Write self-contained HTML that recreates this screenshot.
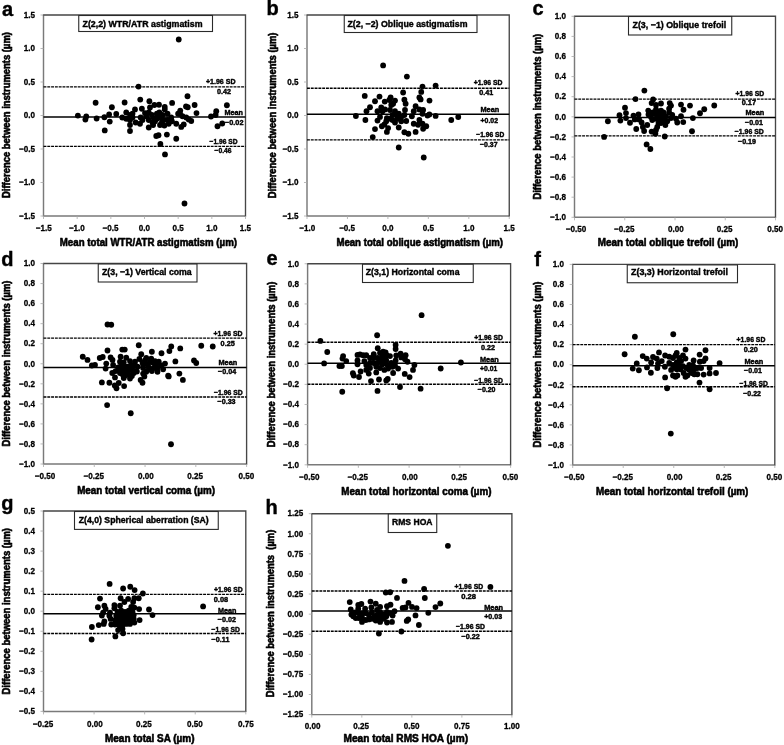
<!DOCTYPE html>
<html lang="en">
<head>
<meta charset="utf-8">
<title>Bland-Altman plots of differences between instruments</title>
<style>
html,body{margin:0;padding:0;background:#fff;}
body{width:784px;height:745px;overflow:hidden;}
svg{display:block;font-family:"Liberation Sans",sans-serif;font-weight:bold;fill:#000;}
.fr{fill:none;stroke:#464646;stroke-width:1.35;}
.fa{fill:none;stroke:#7a7a7a;stroke-width:1.45;}
.tm{fill:none;stroke:#a8a8a8;stroke-width:0.8;}
.tb{fill:#fff;stroke:#2a2a2a;stroke-width:1.1;}
.ds{fill:none;stroke:#000;stroke-width:1.4;stroke-dasharray:2.9 0.9;}
.mn{fill:none;stroke:#000;stroke-width:1.5;}
text{stroke:#000;stroke-linejoin:round;}
.tk{font-size:9.0px;stroke-width:0.3px;}
.an{font-size:7.9px;stroke-width:0.45px;}
.ti{font-size:9.1px;stroke-width:0.4px;}
.ax{font-size:10.8px;stroke-width:0.6px;}
.ay{font-size:10.2px;stroke-width:0.6px;}
.pl{font-size:20px;stroke-width:0.4px;}
</style>
</head>
<body>
<svg width="784" height="745" viewBox="0 0 784 745">
<rect x="0" y="0" width="784" height="745" fill="#fff"/>
<g class="panel">
<path class="fa" d="M43.5 15V216H245.5"/>
<path class="fr" d="M42.9 15H245.5V216.7"/>
<text class="tk" x="34.9" y="17.75" text-anchor="end" textLength="11.26" lengthAdjust="spacingAndGlyphs">1.5</text>
<text class="tk" x="34.9" y="51.25" text-anchor="end" textLength="11.26" lengthAdjust="spacingAndGlyphs">1.0</text>
<text class="tk" x="34.9" y="84.75" text-anchor="end" textLength="11.26" lengthAdjust="spacingAndGlyphs">0.5</text>
<text class="tk" x="34.9" y="118.25" text-anchor="end" textLength="11.26" lengthAdjust="spacingAndGlyphs">0.0</text>
<text class="tk" x="34.9" y="151.75" text-anchor="end" textLength="15.99" lengthAdjust="spacingAndGlyphs">−0.5</text>
<text class="tk" x="34.9" y="185.25" text-anchor="end" textLength="15.99" lengthAdjust="spacingAndGlyphs">−1.0</text>
<text class="tk" x="34.9" y="218.75" text-anchor="end" textLength="15.99" lengthAdjust="spacingAndGlyphs">−1.5</text>
<text class="tk" x="43.8" y="231.2" text-anchor="middle" textLength="15.99" lengthAdjust="spacingAndGlyphs">−1.5</text>
<text class="tk" x="76.87" y="231.2" text-anchor="middle" textLength="15.99" lengthAdjust="spacingAndGlyphs">−1.0</text>
<text class="tk" x="110.53" y="231.2" text-anchor="middle" textLength="15.99" lengthAdjust="spacingAndGlyphs">−0.5</text>
<text class="tk" x="144.5" y="231.2" text-anchor="middle" textLength="11.26" lengthAdjust="spacingAndGlyphs">0.0</text>
<text class="tk" x="178.17" y="231.2" text-anchor="middle" textLength="11.26" lengthAdjust="spacingAndGlyphs">0.5</text>
<text class="tk" x="211.83" y="231.2" text-anchor="middle" textLength="11.26" lengthAdjust="spacingAndGlyphs">1.0</text>
<text class="tk" x="245.5" y="231.2" text-anchor="middle" textLength="11.26" lengthAdjust="spacingAndGlyphs">1.5</text>
<path class="tm" d="M43.5 15h-3M43.5 48.5h-3M43.5 82h-3M43.5 115.5h-3M43.5 149h-3M43.5 182.5h-3M43.5 216h-3M43.5 216v3M77.17 216v3M110.83 216v3M144.5 216v3M178.17 216v3M211.83 216v3M245.5 216v3"/>
<path class="ds" d="M43.5 86.9H245.5 M43.5 146.4H245.5"/>
<path class="mn" d="M43.5 116.9H245.5"/>
<circle cx="77.88" cy="115.62" r="2.9"/>
<circle cx="86.25" cy="116.5" r="2.9"/>
<circle cx="85.38" cy="119.62" r="2.9"/>
<circle cx="95.62" cy="102.75" r="2.9"/>
<circle cx="96.62" cy="118.5" r="2.9"/>
<circle cx="104.38" cy="117.25" r="2.9"/>
<circle cx="104.75" cy="130.38" r="2.9"/>
<circle cx="109.12" cy="114.38" r="2.9"/>
<circle cx="109.75" cy="121.62" r="2.9"/>
<circle cx="111.88" cy="107.25" r="2.9"/>
<circle cx="116.25" cy="114" r="2.9"/>
<circle cx="122.25" cy="117.5" r="2.9"/>
<circle cx="124.62" cy="102.5" r="2.9"/>
<circle cx="126.25" cy="112.5" r="2.9"/>
<circle cx="126.25" cy="118.75" r="2.9"/>
<circle cx="130" cy="115" r="2.9"/>
<circle cx="130" cy="120" r="2.9"/>
<circle cx="130" cy="125" r="2.9"/>
<circle cx="130" cy="131" r="2.9"/>
<circle cx="132.5" cy="113.75" r="2.9"/>
<circle cx="138.5" cy="86.62" r="2.9"/>
<circle cx="140.25" cy="99.62" r="2.9"/>
<circle cx="135" cy="109.38" r="2.9"/>
<circle cx="141.88" cy="108.75" r="2.9"/>
<circle cx="149.38" cy="101.25" r="2.9"/>
<circle cx="150" cy="107.5" r="2.9"/>
<circle cx="154.38" cy="105" r="2.9"/>
<circle cx="159" cy="104.75" r="2.9"/>
<circle cx="164.75" cy="106.88" r="2.9"/>
<circle cx="164.75" cy="109.38" r="2.9"/>
<circle cx="172.12" cy="102.88" r="2.9"/>
<circle cx="180.25" cy="110.62" r="2.9"/>
<circle cx="187.5" cy="96.25" r="2.9"/>
<circle cx="186" cy="106.5" r="2.9"/>
<circle cx="187.75" cy="107.25" r="2.9"/>
<circle cx="194.62" cy="105" r="2.9"/>
<circle cx="196.5" cy="113.12" r="2.9"/>
<circle cx="216.25" cy="111.25" r="2.9"/>
<circle cx="215.62" cy="115" r="2.9"/>
<circle cx="211" cy="116.5" r="2.9"/>
<circle cx="226.88" cy="105.25" r="2.9"/>
<circle cx="217.5" cy="126.25" r="2.9"/>
<circle cx="222.25" cy="123.5" r="2.9"/>
<circle cx="156.25" cy="136" r="2.9"/>
<circle cx="158.5" cy="135.25" r="2.9"/>
<circle cx="166.88" cy="134.62" r="2.9"/>
<circle cx="176.25" cy="138.75" r="2.9"/>
<circle cx="160.38" cy="144" r="2.9"/>
<circle cx="165" cy="154.38" r="2.9"/>
<circle cx="140.62" cy="117.5" r="2.9"/>
<circle cx="140" cy="123.75" r="2.9"/>
<circle cx="142.5" cy="120" r="2.9"/>
<circle cx="146.25" cy="116.25" r="2.9"/>
<circle cx="148.75" cy="112.5" r="2.9"/>
<circle cx="148.75" cy="120" r="2.9"/>
<circle cx="148.75" cy="127.5" r="2.9"/>
<circle cx="151.88" cy="115" r="2.9"/>
<circle cx="152.5" cy="122.5" r="2.9"/>
<circle cx="153.12" cy="125" r="2.9"/>
<circle cx="156.88" cy="113.75" r="2.9"/>
<circle cx="156.88" cy="118.75" r="2.9"/>
<circle cx="159.38" cy="112.5" r="2.9"/>
<circle cx="160" cy="117.5" r="2.9"/>
<circle cx="160" cy="125" r="2.9"/>
<circle cx="163.75" cy="120" r="2.9"/>
<circle cx="164.38" cy="125.62" r="2.9"/>
<circle cx="167.5" cy="113.75" r="2.9"/>
<circle cx="167.5" cy="120" r="2.9"/>
<circle cx="171.25" cy="117.5" r="2.9"/>
<circle cx="171.88" cy="121.25" r="2.9"/>
<circle cx="176.25" cy="123.75" r="2.9"/>
<circle cx="178.12" cy="113.75" r="2.9"/>
<circle cx="180" cy="113.75" r="2.9"/>
<circle cx="181.25" cy="126.88" r="2.9"/>
<circle cx="183.75" cy="124.38" r="2.9"/>
<circle cx="182.5" cy="116.25" r="2.9"/>
<circle cx="186.25" cy="117.5" r="2.9"/>
<circle cx="188.75" cy="119.38" r="2.9"/>
<circle cx="191.25" cy="121" r="2.9"/>
<circle cx="132.5" cy="117.5" r="2.9"/>
<circle cx="135.62" cy="122.5" r="2.9"/>
<circle cx="145" cy="113.12" r="2.9"/>
<circle cx="155" cy="121.25" r="2.9"/>
<circle cx="162.5" cy="115" r="2.9"/>
<circle cx="161.88" cy="122.5" r="2.9"/>
<circle cx="168.75" cy="123.75" r="2.9"/>
<circle cx="153.75" cy="118.12" r="2.9"/>
<circle cx="178.75" cy="39.5" r="2.9"/>
<circle cx="184.5" cy="203.5" r="2.9"/>
<text class="an" x="206" y="84.45" textLength="29.5" lengthAdjust="spacingAndGlyphs">+1.96 SD</text>
<text class="an" x="217" y="94.2" textLength="14" lengthAdjust="spacingAndGlyphs">0.42</text>
<text class="an" x="224.5" y="115.45" textLength="18.5" lengthAdjust="spacingAndGlyphs">Mean</text>
<text class="an" x="225" y="124.95" textLength="18.5" lengthAdjust="spacingAndGlyphs">−0.02</text>
<text class="an" x="209.5" y="143.95" textLength="28" lengthAdjust="spacingAndGlyphs">−1.96 SD</text>
<text class="an" x="214.5" y="153.45" textLength="17" lengthAdjust="spacingAndGlyphs">−0.46</text>
<rect class="tb" x="78.75" y="15.5" width="133.75" height="16"/>
<text class="ti" x="82.5" y="26.5" textLength="120" lengthAdjust="spacingAndGlyphs">Z(2,2) WTR/ATR astigmatism</text>
<text class="ax" x="59.8" y="246.1" textLength="177.2" lengthAdjust="spacingAndGlyphs">Mean total WTR/ATR astigmatism (µm)</text>
<text class="ay" transform="translate(9.5 198) rotate(-90)" x="0" y="0" textLength="166" lengthAdjust="spacingAndGlyphs" style="white-space:pre">Difference between instruments (µm)</text>
<text class="pl" x="1.9" y="15.6">a</text>
</g>
<g class="panel">
<path class="fa" d="M307 15V216H509.25"/>
<path class="fr" d="M306.4 15H509.25V216.7"/>
<text class="tk" x="298.4" y="17.75" text-anchor="end" textLength="11.26" lengthAdjust="spacingAndGlyphs">1.5</text>
<text class="tk" x="298.4" y="51.25" text-anchor="end" textLength="11.26" lengthAdjust="spacingAndGlyphs">1.0</text>
<text class="tk" x="298.4" y="84.75" text-anchor="end" textLength="11.26" lengthAdjust="spacingAndGlyphs">0.5</text>
<text class="tk" x="298.4" y="118.25" text-anchor="end" textLength="11.26" lengthAdjust="spacingAndGlyphs">0.0</text>
<text class="tk" x="298.4" y="151.75" text-anchor="end" textLength="15.99" lengthAdjust="spacingAndGlyphs">−0.5</text>
<text class="tk" x="298.4" y="185.25" text-anchor="end" textLength="15.99" lengthAdjust="spacingAndGlyphs">−1.0</text>
<text class="tk" x="298.4" y="218.75" text-anchor="end" textLength="15.99" lengthAdjust="spacingAndGlyphs">−1.5</text>
<text class="tk" x="307.3" y="231.2" text-anchor="middle" textLength="15.99" lengthAdjust="spacingAndGlyphs">−1.0</text>
<text class="tk" x="347.15" y="231.2" text-anchor="middle" textLength="15.99" lengthAdjust="spacingAndGlyphs">−0.5</text>
<text class="tk" x="387.9" y="231.2" text-anchor="middle" textLength="11.26" lengthAdjust="spacingAndGlyphs">0.0</text>
<text class="tk" x="428.35" y="231.2" text-anchor="middle" textLength="11.26" lengthAdjust="spacingAndGlyphs">0.5</text>
<text class="tk" x="468.8" y="231.2" text-anchor="middle" textLength="11.26" lengthAdjust="spacingAndGlyphs">1.0</text>
<text class="tk" x="509.25" y="231.2" text-anchor="middle" textLength="11.26" lengthAdjust="spacingAndGlyphs">1.5</text>
<path class="tm" d="M307 15h-3M307 48.5h-3M307 82h-3M307 115.5h-3M307 149h-3M307 182.5h-3M307 216h-3M307 216v3M347.45 216v3M387.9 216v3M428.35 216v3M468.8 216v3M509.25 216v3"/>
<path class="ds" d="M307 88.2H509.25 M307 139.9H509.25"/>
<path class="mn" d="M307 114.2H509.25"/>
<circle cx="383.12" cy="65.38" r="2.9"/>
<circle cx="406.88" cy="76.62" r="2.9"/>
<circle cx="422.5" cy="86.62" r="2.9"/>
<circle cx="435.62" cy="85.62" r="2.9"/>
<circle cx="421.25" cy="91.88" r="2.9"/>
<circle cx="403.12" cy="92.5" r="2.9"/>
<circle cx="364.75" cy="95.88" r="2.9"/>
<circle cx="379.5" cy="96.62" r="2.9"/>
<circle cx="375" cy="101.25" r="2.9"/>
<circle cx="384.75" cy="101.62" r="2.9"/>
<circle cx="390.62" cy="97.5" r="2.9"/>
<circle cx="389.38" cy="100" r="2.9"/>
<circle cx="395" cy="100.62" r="2.9"/>
<circle cx="404.38" cy="99.75" r="2.9"/>
<circle cx="405.62" cy="103.75" r="2.9"/>
<circle cx="419.38" cy="97.5" r="2.9"/>
<circle cx="420.62" cy="99.38" r="2.9"/>
<circle cx="429.5" cy="100.62" r="2.9"/>
<circle cx="370" cy="107.25" r="2.9"/>
<circle cx="366.5" cy="111.25" r="2.9"/>
<circle cx="355.88" cy="116" r="2.9"/>
<circle cx="365.38" cy="120" r="2.9"/>
<circle cx="381.25" cy="107.5" r="2.9"/>
<circle cx="377.5" cy="111.25" r="2.9"/>
<circle cx="382.5" cy="111.25" r="2.9"/>
<circle cx="380" cy="116.88" r="2.9"/>
<circle cx="377.5" cy="120.62" r="2.9"/>
<circle cx="391.25" cy="105" r="2.9"/>
<circle cx="393.12" cy="103.75" r="2.9"/>
<circle cx="390" cy="110" r="2.9"/>
<circle cx="395" cy="111.25" r="2.9"/>
<circle cx="392.5" cy="115" r="2.9"/>
<circle cx="386.88" cy="118.12" r="2.9"/>
<circle cx="386.25" cy="121.25" r="2.9"/>
<circle cx="398.75" cy="113.75" r="2.9"/>
<circle cx="397.5" cy="118.75" r="2.9"/>
<circle cx="395" cy="122.5" r="2.9"/>
<circle cx="401.25" cy="121.25" r="2.9"/>
<circle cx="405" cy="110" r="2.9"/>
<circle cx="404.38" cy="115" r="2.9"/>
<circle cx="406.25" cy="121" r="2.9"/>
<circle cx="411.88" cy="116.25" r="2.9"/>
<circle cx="413.75" cy="111.25" r="2.9"/>
<circle cx="415.62" cy="106.25" r="2.9"/>
<circle cx="419.38" cy="109.38" r="2.9"/>
<circle cx="423.12" cy="110" r="2.9"/>
<circle cx="422.5" cy="113.75" r="2.9"/>
<circle cx="427.5" cy="115.62" r="2.9"/>
<circle cx="429.38" cy="114.38" r="2.9"/>
<circle cx="435.62" cy="115.88" r="2.9"/>
<circle cx="419.38" cy="120" r="2.9"/>
<circle cx="413.75" cy="123.75" r="2.9"/>
<circle cx="418.12" cy="124.75" r="2.9"/>
<circle cx="422.5" cy="123.75" r="2.9"/>
<circle cx="426.25" cy="126.25" r="2.9"/>
<circle cx="423.12" cy="128.75" r="2.9"/>
<circle cx="415.62" cy="131.88" r="2.9"/>
<circle cx="404.38" cy="132.25" r="2.9"/>
<circle cx="408.38" cy="133.75" r="2.9"/>
<circle cx="398.75" cy="127.5" r="2.9"/>
<circle cx="386.88" cy="131.88" r="2.9"/>
<circle cx="388.12" cy="128.12" r="2.9"/>
<circle cx="384.38" cy="124.38" r="2.9"/>
<circle cx="381.88" cy="126.25" r="2.9"/>
<circle cx="375" cy="129.12" r="2.9"/>
<circle cx="372.75" cy="137.12" r="2.9"/>
<circle cx="398.75" cy="147.5" r="2.9"/>
<circle cx="385" cy="109.38" r="2.9"/>
<circle cx="396.88" cy="115.62" r="2.9"/>
<circle cx="401.25" cy="116.88" r="2.9"/>
<circle cx="390.62" cy="118.75" r="2.9"/>
<circle cx="392.5" cy="120" r="2.9"/>
<circle cx="423.75" cy="157.5" r="2.9"/>
<circle cx="451.25" cy="120" r="2.9"/>
<circle cx="458.25" cy="117" r="2.9"/>
<text class="an" x="473.75" y="84.95" textLength="28.75" lengthAdjust="spacingAndGlyphs">+1.96 SD</text>
<text class="an" x="479.25" y="94.95" textLength="14" lengthAdjust="spacingAndGlyphs">0.41</text>
<text class="an" x="480.5" y="112.45" textLength="18.75" lengthAdjust="spacingAndGlyphs">Mean</text>
<text class="an" x="480.5" y="122.95" textLength="17.5" lengthAdjust="spacingAndGlyphs">+0.02</text>
<text class="an" x="476.25" y="137.45" textLength="28" lengthAdjust="spacingAndGlyphs">−1.96 SD</text>
<text class="an" x="480" y="146.95" textLength="17.5" lengthAdjust="spacingAndGlyphs">−0.37</text>
<rect class="tb" x="344.25" y="15.5" width="132.75" height="17"/>
<text class="ti" x="347.5" y="26.5" textLength="120" lengthAdjust="spacingAndGlyphs">Z(2, −2) Oblique astigmatism</text>
<text class="ax" x="336.4" y="246.1" textLength="166.6" lengthAdjust="spacingAndGlyphs">Mean total oblique astigmatism (µm)</text>
<text class="ay" transform="translate(275.9 198.3) rotate(-90)" x="0" y="0" textLength="165.8" lengthAdjust="spacingAndGlyphs" style="white-space:pre">Difference between instruments (µm)</text>
<text class="pl" x="266.5" y="14.6">b</text>
</g>
<g class="panel">
<path class="fa" d="M574.5 16.3V217.3H775.5"/>
<path class="fr" d="M573.9 16.3H775.5V218"/>
<text class="tk" x="565.9" y="19.05" text-anchor="end" textLength="11.26" lengthAdjust="spacingAndGlyphs">1.0</text>
<text class="tk" x="565.9" y="39.15" text-anchor="end" textLength="11.26" lengthAdjust="spacingAndGlyphs">0.8</text>
<text class="tk" x="565.9" y="59.25" text-anchor="end" textLength="11.26" lengthAdjust="spacingAndGlyphs">0.6</text>
<text class="tk" x="565.9" y="79.35" text-anchor="end" textLength="11.26" lengthAdjust="spacingAndGlyphs">0.4</text>
<text class="tk" x="565.9" y="99.45" text-anchor="end" textLength="11.26" lengthAdjust="spacingAndGlyphs">0.2</text>
<text class="tk" x="565.9" y="119.55" text-anchor="end" textLength="11.26" lengthAdjust="spacingAndGlyphs">0.0</text>
<text class="tk" x="565.9" y="139.65" text-anchor="end" textLength="15.99" lengthAdjust="spacingAndGlyphs">−0.2</text>
<text class="tk" x="565.9" y="159.75" text-anchor="end" textLength="15.99" lengthAdjust="spacingAndGlyphs">−0.4</text>
<text class="tk" x="565.9" y="179.85" text-anchor="end" textLength="15.99" lengthAdjust="spacingAndGlyphs">−0.6</text>
<text class="tk" x="565.9" y="199.95" text-anchor="end" textLength="15.99" lengthAdjust="spacingAndGlyphs">−0.8</text>
<text class="tk" x="565.9" y="220.05" text-anchor="end" textLength="15.99" lengthAdjust="spacingAndGlyphs">−1.0</text>
<text class="tk" x="576.1" y="231.7" text-anchor="middle" textLength="20.49" lengthAdjust="spacingAndGlyphs">−0.50</text>
<text class="tk" x="624.25" y="231.7" text-anchor="middle" textLength="20.49" lengthAdjust="spacingAndGlyphs">−0.25</text>
<text class="tk" x="675.9" y="231.7" text-anchor="middle" textLength="15.76" lengthAdjust="spacingAndGlyphs">0.00</text>
<text class="tk" x="724.55" y="231.7" text-anchor="middle" textLength="15.76" lengthAdjust="spacingAndGlyphs">0.25</text>
<text class="tk" x="775.2" y="231.7" text-anchor="middle" textLength="15.76" lengthAdjust="spacingAndGlyphs">0.50</text>
<path class="tm" d="M574.5 16.3h-3M574.5 36.4h-3M574.5 56.5h-3M574.5 76.6h-3M574.5 96.7h-3M574.5 116.8h-3M574.5 136.9h-3M574.5 157h-3M574.5 177.1h-3M574.5 197.2h-3M574.5 217.3h-3M574.5 217.3v3M624.75 217.3v3M675 217.3v3M725.25 217.3v3M775.5 217.3v3"/>
<path class="ds" d="M574.5 99.1H775.5 M574.5 135.9H775.5"/>
<path class="mn" d="M574.5 117.4H775.5"/>
<circle cx="644.38" cy="90.62" r="2.9"/>
<circle cx="635.5" cy="99.12" r="2.9"/>
<circle cx="653.12" cy="99.38" r="2.9"/>
<circle cx="651.62" cy="103.12" r="2.9"/>
<circle cx="625" cy="107.75" r="2.9"/>
<circle cx="626" cy="113.12" r="2.9"/>
<circle cx="619.5" cy="115.25" r="2.9"/>
<circle cx="620.38" cy="120.62" r="2.9"/>
<circle cx="607.88" cy="121.25" r="2.9"/>
<circle cx="604.12" cy="136.88" r="2.9"/>
<circle cx="626" cy="118.12" r="2.9"/>
<circle cx="633.5" cy="115.62" r="2.9"/>
<circle cx="638.5" cy="114.38" r="2.9"/>
<circle cx="634.75" cy="119.38" r="2.9"/>
<circle cx="630" cy="122.75" r="2.9"/>
<circle cx="639.12" cy="119.38" r="2.9"/>
<circle cx="641.62" cy="122.5" r="2.9"/>
<circle cx="647.25" cy="125" r="2.9"/>
<circle cx="642.88" cy="126.88" r="2.9"/>
<circle cx="636.25" cy="129" r="2.9"/>
<circle cx="644.12" cy="131" r="2.9"/>
<circle cx="648.25" cy="110.62" r="2.9"/>
<circle cx="648.5" cy="114.38" r="2.9"/>
<circle cx="651" cy="116.88" r="2.9"/>
<circle cx="656" cy="105" r="2.9"/>
<circle cx="661" cy="103.5" r="2.9"/>
<circle cx="669.75" cy="103.12" r="2.9"/>
<circle cx="671" cy="105.62" r="2.9"/>
<circle cx="669.12" cy="108.75" r="2.9"/>
<circle cx="656" cy="109.38" r="2.9"/>
<circle cx="661" cy="110.62" r="2.9"/>
<circle cx="654.75" cy="113.75" r="2.9"/>
<circle cx="658.5" cy="115" r="2.9"/>
<circle cx="662.25" cy="115" r="2.9"/>
<circle cx="656" cy="118.75" r="2.9"/>
<circle cx="659.75" cy="119.38" r="2.9"/>
<circle cx="664.12" cy="118.12" r="2.9"/>
<circle cx="669.12" cy="112.5" r="2.9"/>
<circle cx="672.25" cy="115" r="2.9"/>
<circle cx="671" cy="118.12" r="2.9"/>
<circle cx="667.25" cy="121.25" r="2.9"/>
<circle cx="661" cy="123.12" r="2.9"/>
<circle cx="665.38" cy="125" r="2.9"/>
<circle cx="657.25" cy="126.88" r="2.9"/>
<circle cx="656" cy="130" r="2.9"/>
<circle cx="651.62" cy="131.62" r="2.9"/>
<circle cx="655.38" cy="133.75" r="2.9"/>
<circle cx="664.75" cy="136.5" r="2.9"/>
<circle cx="646.62" cy="144.38" r="2.9"/>
<circle cx="650.38" cy="149" r="2.9"/>
<circle cx="681" cy="104.62" r="2.9"/>
<circle cx="690" cy="105.62" r="2.9"/>
<circle cx="683.5" cy="109.75" r="2.9"/>
<circle cx="681" cy="116.25" r="2.9"/>
<circle cx="676" cy="118.75" r="2.9"/>
<circle cx="677.25" cy="122.5" r="2.9"/>
<circle cx="683.25" cy="122.12" r="2.9"/>
<circle cx="692.88" cy="118.12" r="2.9"/>
<circle cx="692" cy="131.25" r="2.9"/>
<circle cx="652.88" cy="112.5" r="2.9"/>
<circle cx="658.5" cy="111.88" r="2.9"/>
<circle cx="663.5" cy="112.5" r="2.9"/>
<circle cx="666" cy="116.25" r="2.9"/>
<circle cx="652.25" cy="120" r="2.9"/>
<circle cx="663.5" cy="121.25" r="2.9"/>
<circle cx="658.5" cy="123.12" r="2.9"/>
<circle cx="714.25" cy="105.5" r="2.9"/>
<circle cx="704.25" cy="109.25" r="2.9"/>
<circle cx="700" cy="113.25" r="2.9"/>
<text class="an" x="735.5" y="96.2" textLength="28.75" lengthAdjust="spacingAndGlyphs">+1.96 SD</text>
<text class="an" x="741.75" y="105.45" textLength="14.25" lengthAdjust="spacingAndGlyphs">0.17</text>
<text class="an" x="745.5" y="115.45" textLength="18.75" lengthAdjust="spacingAndGlyphs">Mean</text>
<text class="an" x="745" y="124.95" textLength="18" lengthAdjust="spacingAndGlyphs">−0.01</text>
<text class="an" x="734.75" y="134.2" textLength="29" lengthAdjust="spacingAndGlyphs">−1.96 SD</text>
<text class="an" x="738" y="143.7" textLength="18" lengthAdjust="spacingAndGlyphs">−0.19</text>
<rect class="tb" x="628.5" y="16.5" width="103.25" height="18.5"/>
<text class="ti" x="632.5" y="27.7" textLength="93.75" lengthAdjust="spacingAndGlyphs">Z(3, −1) Oblique trefoil</text>
<text class="ax" x="597.75" y="245.8" textLength="140.5" lengthAdjust="spacingAndGlyphs">Mean total oblique trefoil (µm)</text>
<text class="ay" transform="translate(540.9 199.6) rotate(-90)" x="0" y="0" textLength="165.8" lengthAdjust="spacingAndGlyphs" style="white-space:pre">Difference between instruments (µm)</text>
<text class="pl" x="532.5" y="14.6">c</text>
</g>
<g class="panel">
<path class="fa" d="M43.5 263.5V464H246.6"/>
<path class="fr" d="M42.9 263.5H246.6V464.7"/>
<text class="tk" x="34.9" y="266.25" text-anchor="end" textLength="11.26" lengthAdjust="spacingAndGlyphs">1.0</text>
<text class="tk" x="34.9" y="286.3" text-anchor="end" textLength="11.26" lengthAdjust="spacingAndGlyphs">0.8</text>
<text class="tk" x="34.9" y="306.35" text-anchor="end" textLength="11.26" lengthAdjust="spacingAndGlyphs">0.6</text>
<text class="tk" x="34.9" y="326.4" text-anchor="end" textLength="11.26" lengthAdjust="spacingAndGlyphs">0.4</text>
<text class="tk" x="34.9" y="346.45" text-anchor="end" textLength="11.26" lengthAdjust="spacingAndGlyphs">0.2</text>
<text class="tk" x="34.9" y="366.5" text-anchor="end" textLength="11.26" lengthAdjust="spacingAndGlyphs">0.0</text>
<text class="tk" x="34.9" y="386.55" text-anchor="end" textLength="15.99" lengthAdjust="spacingAndGlyphs">−0.2</text>
<text class="tk" x="34.9" y="406.6" text-anchor="end" textLength="15.99" lengthAdjust="spacingAndGlyphs">−0.4</text>
<text class="tk" x="34.9" y="426.65" text-anchor="end" textLength="15.99" lengthAdjust="spacingAndGlyphs">−0.6</text>
<text class="tk" x="34.9" y="446.7" text-anchor="end" textLength="15.99" lengthAdjust="spacingAndGlyphs">−0.8</text>
<text class="tk" x="34.9" y="466.75" text-anchor="end" textLength="15.99" lengthAdjust="spacingAndGlyphs">−1.0</text>
<text class="tk" x="45.1" y="479.2" text-anchor="middle" textLength="20.49" lengthAdjust="spacingAndGlyphs">−0.50</text>
<text class="tk" x="93.78" y="479.2" text-anchor="middle" textLength="20.49" lengthAdjust="spacingAndGlyphs">−0.25</text>
<text class="tk" x="145.95" y="479.2" text-anchor="middle" textLength="15.76" lengthAdjust="spacingAndGlyphs">0.00</text>
<text class="tk" x="195.12" y="479.2" text-anchor="middle" textLength="15.76" lengthAdjust="spacingAndGlyphs">0.25</text>
<text class="tk" x="246.3" y="479.2" text-anchor="middle" textLength="15.76" lengthAdjust="spacingAndGlyphs">0.50</text>
<path class="tm" d="M43.5 263.5h-3M43.5 283.55h-3M43.5 303.6h-3M43.5 323.65h-3M43.5 343.7h-3M43.5 363.75h-3M43.5 383.8h-3M43.5 403.85h-3M43.5 423.9h-3M43.5 443.95h-3M43.5 464h-3M43.5 464v3M94.28 464v3M145.05 464v3M195.82 464v3M246.6 464v3"/>
<path class="ds" d="M43.5 338.1H246.6 M43.5 397H246.6"/>
<path class="mn" d="M43.5 367.4H246.6"/>
<circle cx="107.5" cy="324.5" r="2.9"/>
<circle cx="111.25" cy="324.75" r="2.9"/>
<circle cx="138.75" cy="345.25" r="2.9"/>
<circle cx="107.5" cy="350.5" r="2.9"/>
<circle cx="122.25" cy="349.62" r="2.9"/>
<circle cx="124.75" cy="349.62" r="2.9"/>
<circle cx="82.75" cy="356.75" r="2.9"/>
<circle cx="87.5" cy="359.88" r="2.9"/>
<circle cx="91.88" cy="365.5" r="2.9"/>
<circle cx="95" cy="364.88" r="2.9"/>
<circle cx="99.75" cy="358" r="2.9"/>
<circle cx="102.75" cy="357" r="2.9"/>
<circle cx="110.62" cy="357.38" r="2.9"/>
<circle cx="112.5" cy="359.88" r="2.9"/>
<circle cx="106.25" cy="363.62" r="2.9"/>
<circle cx="105.62" cy="368.62" r="2.9"/>
<circle cx="113.12" cy="364.88" r="2.9"/>
<circle cx="120.62" cy="356.75" r="2.9"/>
<circle cx="126.25" cy="357.75" r="2.9"/>
<circle cx="120" cy="361.75" r="2.9"/>
<circle cx="123.75" cy="362.38" r="2.9"/>
<circle cx="130" cy="361.12" r="2.9"/>
<circle cx="118.12" cy="367.38" r="2.9"/>
<circle cx="115.62" cy="371.12" r="2.9"/>
<circle cx="112.25" cy="373" r="2.9"/>
<circle cx="115" cy="377.38" r="2.9"/>
<circle cx="120" cy="373" r="2.9"/>
<circle cx="123.75" cy="378" r="2.9"/>
<circle cx="125" cy="371.75" r="2.9"/>
<circle cx="127.5" cy="366.75" r="2.9"/>
<circle cx="131.25" cy="364.88" r="2.9"/>
<circle cx="135" cy="365.5" r="2.9"/>
<circle cx="132.5" cy="369.88" r="2.9"/>
<circle cx="136.88" cy="371.5" r="2.9"/>
<circle cx="131.88" cy="376.12" r="2.9"/>
<circle cx="130" cy="378.62" r="2.9"/>
<circle cx="141.25" cy="354.25" r="2.9"/>
<circle cx="139.38" cy="359" r="2.9"/>
<circle cx="146.25" cy="358" r="2.9"/>
<circle cx="142.5" cy="362.38" r="2.9"/>
<circle cx="143.12" cy="368" r="2.9"/>
<circle cx="147.5" cy="364.25" r="2.9"/>
<circle cx="151.25" cy="358.62" r="2.9"/>
<circle cx="151.88" cy="351.75" r="2.9"/>
<circle cx="152.5" cy="362.38" r="2.9"/>
<circle cx="155" cy="361.12" r="2.9"/>
<circle cx="158.75" cy="361.75" r="2.9"/>
<circle cx="151.88" cy="371.12" r="2.9"/>
<circle cx="157.5" cy="371.75" r="2.9"/>
<circle cx="155" cy="366.75" r="2.9"/>
<circle cx="161.25" cy="365.5" r="2.9"/>
<circle cx="163.12" cy="369.25" r="2.9"/>
<circle cx="165" cy="363.62" r="2.9"/>
<circle cx="161.5" cy="353.25" r="2.9"/>
<circle cx="169.38" cy="351.12" r="2.9"/>
<circle cx="171.25" cy="346.5" r="2.9"/>
<circle cx="168.12" cy="375.75" r="2.9"/>
<circle cx="143.12" cy="373.62" r="2.9"/>
<circle cx="144.38" cy="376.5" r="2.9"/>
<circle cx="140.62" cy="379.88" r="2.9"/>
<circle cx="142.5" cy="382.75" r="2.9"/>
<circle cx="101.88" cy="382.38" r="2.9"/>
<circle cx="109.38" cy="382.75" r="2.9"/>
<circle cx="114.75" cy="385.5" r="2.9"/>
<circle cx="118.75" cy="383" r="2.9"/>
<circle cx="116.5" cy="388.25" r="2.9"/>
<circle cx="124.12" cy="386.12" r="2.9"/>
<circle cx="107.12" cy="405.12" r="2.9"/>
<circle cx="122.5" cy="369.25" r="2.9"/>
<circle cx="127.5" cy="373" r="2.9"/>
<circle cx="148.75" cy="367.38" r="2.9"/>
<circle cx="130" cy="368" r="2.9"/>
<circle cx="133.75" cy="373" r="2.9"/>
<circle cx="128.75" cy="370.5" r="2.9"/>
<circle cx="125" cy="375.5" r="2.9"/>
<circle cx="135" cy="361.75" r="2.9"/>
<circle cx="145" cy="360.5" r="2.9"/>
<circle cx="150" cy="361.75" r="2.9"/>
<circle cx="156.25" cy="364.25" r="2.9"/>
<circle cx="150" cy="369.25" r="2.9"/>
<circle cx="146.25" cy="371.75" r="2.9"/>
<circle cx="153.75" cy="368" r="2.9"/>
<circle cx="157.5" cy="368" r="2.9"/>
<circle cx="121.25" cy="365.5" r="2.9"/>
<circle cx="125" cy="366.75" r="2.9"/>
<circle cx="118.75" cy="370.5" r="2.9"/>
<circle cx="122.5" cy="374.25" r="2.9"/>
<circle cx="128.75" cy="374.88" r="2.9"/>
<circle cx="143.12" cy="364.88" r="2.9"/>
<circle cx="137.5" cy="366.75" r="2.9"/>
<circle cx="180.25" cy="348.38" r="2.9"/>
<circle cx="201.25" cy="345.75" r="2.9"/>
<circle cx="212.75" cy="346.5" r="2.9"/>
<circle cx="175.38" cy="361.38" r="2.9"/>
<circle cx="194" cy="360.5" r="2.9"/>
<circle cx="196.25" cy="363" r="2.9"/>
<circle cx="179.38" cy="373.62" r="2.9"/>
<circle cx="182.88" cy="379.88" r="2.9"/>
<circle cx="168.75" cy="376.38" r="2.9"/>
<circle cx="171" cy="444.25" r="2.9"/>
<circle cx="130.75" cy="413.25" r="2.9"/>
<text class="an" x="213.5" y="336.05" textLength="29" lengthAdjust="spacingAndGlyphs">+1.96 SD</text>
<text class="an" x="220.6" y="345.85" textLength="14.15" lengthAdjust="spacingAndGlyphs">0.25</text>
<text class="an" x="218.5" y="364.85" textLength="18.75" lengthAdjust="spacingAndGlyphs">Mean</text>
<text class="an" x="218.1" y="374.45" textLength="18.15" lengthAdjust="spacingAndGlyphs">−0.04</text>
<text class="an" x="214" y="394.85" textLength="28.75" lengthAdjust="spacingAndGlyphs">−1.96 SD</text>
<text class="an" x="217.5" y="404.45" textLength="18.1" lengthAdjust="spacingAndGlyphs">−0.33</text>
<rect class="tb" x="98.25" y="264" width="98.75" height="18"/>
<text class="ti" x="102" y="275" textLength="89.75" lengthAdjust="spacingAndGlyphs">Z(3, −1) Vertical coma</text>
<text class="ax" x="77.2" y="494.1" textLength="137.8" lengthAdjust="spacingAndGlyphs">Mean total vertical coma (µm)</text>
<text class="ay" transform="translate(9.5 446.5) rotate(-90)" x="0" y="0" textLength="166" lengthAdjust="spacingAndGlyphs" style="white-space:pre">Difference between instruments (µm)</text>
<text class="pl" x="1.2" y="266">d</text>
</g>
<g class="panel">
<path class="fa" d="M307.6 263.75V464.8H510.6"/>
<path class="fr" d="M307 263.75H510.6V465.5"/>
<text class="tk" x="299" y="266.5" text-anchor="end" textLength="11.26" lengthAdjust="spacingAndGlyphs">1.0</text>
<text class="tk" x="299" y="286.61" text-anchor="end" textLength="11.26" lengthAdjust="spacingAndGlyphs">0.8</text>
<text class="tk" x="299" y="306.71" text-anchor="end" textLength="11.26" lengthAdjust="spacingAndGlyphs">0.6</text>
<text class="tk" x="299" y="326.82" text-anchor="end" textLength="11.26" lengthAdjust="spacingAndGlyphs">0.4</text>
<text class="tk" x="299" y="346.92" text-anchor="end" textLength="11.26" lengthAdjust="spacingAndGlyphs">0.2</text>
<text class="tk" x="299" y="367.02" text-anchor="end" textLength="11.26" lengthAdjust="spacingAndGlyphs">0.0</text>
<text class="tk" x="299" y="387.13" text-anchor="end" textLength="15.99" lengthAdjust="spacingAndGlyphs">−0.2</text>
<text class="tk" x="299" y="407.24" text-anchor="end" textLength="15.99" lengthAdjust="spacingAndGlyphs">−0.4</text>
<text class="tk" x="299" y="427.34" text-anchor="end" textLength="15.99" lengthAdjust="spacingAndGlyphs">−0.6</text>
<text class="tk" x="299" y="447.44" text-anchor="end" textLength="15.99" lengthAdjust="spacingAndGlyphs">−0.8</text>
<text class="tk" x="299" y="467.55" text-anchor="end" textLength="15.99" lengthAdjust="spacingAndGlyphs">−1.0</text>
<text class="tk" x="309.2" y="480" text-anchor="middle" textLength="20.49" lengthAdjust="spacingAndGlyphs">−0.50</text>
<text class="tk" x="357.85" y="480" text-anchor="middle" textLength="20.49" lengthAdjust="spacingAndGlyphs">−0.25</text>
<text class="tk" x="410" y="480" text-anchor="middle" textLength="15.76" lengthAdjust="spacingAndGlyphs">0.00</text>
<text class="tk" x="459.15" y="480" text-anchor="middle" textLength="15.76" lengthAdjust="spacingAndGlyphs">0.25</text>
<text class="tk" x="510.3" y="480" text-anchor="middle" textLength="15.76" lengthAdjust="spacingAndGlyphs">0.50</text>
<path class="tm" d="M307.6 263.75h-3M307.6 283.86h-3M307.6 303.96h-3M307.6 324.07h-3M307.6 344.17h-3M307.6 364.27h-3M307.6 384.38h-3M307.6 404.49h-3M307.6 424.59h-3M307.6 444.69h-3M307.6 464.8h-3M307.6 464.8v3M358.35 464.8v3M409.1 464.8v3M459.85 464.8v3M510.6 464.8v3"/>
<path class="ds" d="M307.6 342.2H510.6 M307.6 384.2H510.6"/>
<path class="mn" d="M307.6 363.2H510.6"/>
<circle cx="320.38" cy="340.88" r="2.9"/>
<circle cx="327.25" cy="352" r="2.9"/>
<circle cx="324.12" cy="363.38" r="2.9"/>
<circle cx="377.12" cy="335.25" r="2.9"/>
<circle cx="343.12" cy="356.12" r="2.9"/>
<circle cx="342.5" cy="358.62" r="2.9"/>
<circle cx="346.25" cy="361.12" r="2.9"/>
<circle cx="339.38" cy="366.12" r="2.9"/>
<circle cx="341.88" cy="366.12" r="2.9"/>
<circle cx="342.25" cy="391.75" r="2.9"/>
<circle cx="357.5" cy="354.88" r="2.9"/>
<circle cx="360" cy="354.5" r="2.9"/>
<circle cx="357.5" cy="360.5" r="2.9"/>
<circle cx="357.5" cy="364.25" r="2.9"/>
<circle cx="363.12" cy="355.25" r="2.9"/>
<circle cx="366.25" cy="355.25" r="2.9"/>
<circle cx="364.38" cy="361.12" r="2.9"/>
<circle cx="366.25" cy="364.88" r="2.9"/>
<circle cx="370" cy="368" r="2.9"/>
<circle cx="366.25" cy="369.88" r="2.9"/>
<circle cx="368.75" cy="373.62" r="2.9"/>
<circle cx="360.62" cy="371.5" r="2.9"/>
<circle cx="352.88" cy="373.25" r="2.9"/>
<circle cx="353.75" cy="375.5" r="2.9"/>
<circle cx="359" cy="377" r="2.9"/>
<circle cx="371" cy="381.12" r="2.9"/>
<circle cx="379" cy="379.5" r="2.9"/>
<circle cx="386.25" cy="380.5" r="2.9"/>
<circle cx="387.75" cy="379" r="2.9"/>
<circle cx="377.5" cy="390.88" r="2.9"/>
<circle cx="400" cy="387" r="2.9"/>
<circle cx="377.75" cy="348.25" r="2.9"/>
<circle cx="395.62" cy="344.88" r="2.9"/>
<circle cx="395.62" cy="349" r="2.9"/>
<circle cx="373.75" cy="354.25" r="2.9"/>
<circle cx="373.12" cy="358" r="2.9"/>
<circle cx="373.75" cy="363" r="2.9"/>
<circle cx="376.25" cy="366.75" r="2.9"/>
<circle cx="376.25" cy="372.38" r="2.9"/>
<circle cx="380" cy="353" r="2.9"/>
<circle cx="383.12" cy="351.75" r="2.9"/>
<circle cx="385.62" cy="352.38" r="2.9"/>
<circle cx="382.5" cy="356.75" r="2.9"/>
<circle cx="380" cy="360.5" r="2.9"/>
<circle cx="382.5" cy="364.25" r="2.9"/>
<circle cx="380" cy="368" r="2.9"/>
<circle cx="384.38" cy="369.88" r="2.9"/>
<circle cx="386.88" cy="355.5" r="2.9"/>
<circle cx="390" cy="356.12" r="2.9"/>
<circle cx="386.25" cy="360.5" r="2.9"/>
<circle cx="387.5" cy="364.88" r="2.9"/>
<circle cx="388.12" cy="368.62" r="2.9"/>
<circle cx="391.25" cy="363" r="2.9"/>
<circle cx="392.5" cy="366.75" r="2.9"/>
<circle cx="393.12" cy="373" r="2.9"/>
<circle cx="396.25" cy="355.5" r="2.9"/>
<circle cx="400.62" cy="353.62" r="2.9"/>
<circle cx="405.62" cy="355.25" r="2.9"/>
<circle cx="401.25" cy="357.38" r="2.9"/>
<circle cx="395.62" cy="360.5" r="2.9"/>
<circle cx="395" cy="365.5" r="2.9"/>
<circle cx="398.12" cy="368.62" r="2.9"/>
<circle cx="405" cy="359.25" r="2.9"/>
<circle cx="407.5" cy="361.75" r="2.9"/>
<circle cx="404.75" cy="373.88" r="2.9"/>
<circle cx="409.62" cy="377.12" r="2.9"/>
<circle cx="413" cy="369.88" r="2.9"/>
<circle cx="370" cy="358" r="2.9"/>
<circle cx="370" cy="363" r="2.9"/>
<circle cx="377.5" cy="358" r="2.9"/>
<circle cx="377.5" cy="363" r="2.9"/>
<circle cx="383.75" cy="360.5" r="2.9"/>
<circle cx="421.6" cy="315.2" r="2.9"/>
<circle cx="460.9" cy="362.5" r="2.9"/>
<circle cx="440.7" cy="368.5" r="2.9"/>
<circle cx="420.6" cy="388.7" r="2.9"/>
<circle cx="414.4" cy="365" r="2.9"/>
<text class="an" x="474.2" y="340.05" textLength="28.8" lengthAdjust="spacingAndGlyphs">+1.96 SD</text>
<text class="an" x="481" y="349.85" textLength="14" lengthAdjust="spacingAndGlyphs">0.22</text>
<text class="an" x="480" y="361.65" textLength="18.7" lengthAdjust="spacingAndGlyphs">Mean</text>
<text class="an" x="480" y="370.95" textLength="17.2" lengthAdjust="spacingAndGlyphs">+0.01</text>
<text class="an" x="474.2" y="382.95" textLength="28.8" lengthAdjust="spacingAndGlyphs">−1.96 SD</text>
<text class="an" x="477.8" y="392.15" textLength="17.7" lengthAdjust="spacingAndGlyphs">−0.20</text>
<rect class="tb" x="362.5" y="264.25" width="110.75" height="18.25"/>
<text class="ti" x="365.75" y="275.2" textLength="93.75" lengthAdjust="spacingAndGlyphs">Z(3,1) Horizontal coma</text>
<text class="ax" x="341.3" y="494.6" textLength="150.2" lengthAdjust="spacingAndGlyphs">Mean total horizontal coma (µm)</text>
<text class="ay" transform="translate(274.6 447.3) rotate(-90)" x="0" y="0" textLength="165.6" lengthAdjust="spacingAndGlyphs" style="white-space:pre">Difference between instruments (µm)</text>
<text class="pl" x="266.5" y="265">e</text>
</g>
<g class="panel">
<path class="fa" d="M572.7 264.4V465H774.8"/>
<path class="fr" d="M572.1 264.4H774.8V465.7"/>
<text class="tk" x="564.1" y="267.15" text-anchor="end" textLength="11.26" lengthAdjust="spacingAndGlyphs">1.0</text>
<text class="tk" x="564.1" y="287.21" text-anchor="end" textLength="11.26" lengthAdjust="spacingAndGlyphs">0.8</text>
<text class="tk" x="564.1" y="307.27" text-anchor="end" textLength="11.26" lengthAdjust="spacingAndGlyphs">0.6</text>
<text class="tk" x="564.1" y="327.33" text-anchor="end" textLength="11.26" lengthAdjust="spacingAndGlyphs">0.4</text>
<text class="tk" x="564.1" y="347.39" text-anchor="end" textLength="11.26" lengthAdjust="spacingAndGlyphs">0.2</text>
<text class="tk" x="564.1" y="367.45" text-anchor="end" textLength="11.26" lengthAdjust="spacingAndGlyphs">0.0</text>
<text class="tk" x="564.1" y="387.51" text-anchor="end" textLength="15.99" lengthAdjust="spacingAndGlyphs">−0.2</text>
<text class="tk" x="564.1" y="407.57" text-anchor="end" textLength="15.99" lengthAdjust="spacingAndGlyphs">−0.4</text>
<text class="tk" x="564.1" y="427.63" text-anchor="end" textLength="15.99" lengthAdjust="spacingAndGlyphs">−0.6</text>
<text class="tk" x="564.1" y="447.69" text-anchor="end" textLength="15.99" lengthAdjust="spacingAndGlyphs">−0.8</text>
<text class="tk" x="564.1" y="467.75" text-anchor="end" textLength="15.99" lengthAdjust="spacingAndGlyphs">−1.0</text>
<text class="tk" x="574.3" y="480.2" text-anchor="middle" textLength="20.49" lengthAdjust="spacingAndGlyphs">−0.50</text>
<text class="tk" x="622.73" y="480.2" text-anchor="middle" textLength="20.49" lengthAdjust="spacingAndGlyphs">−0.25</text>
<text class="tk" x="674.65" y="480.2" text-anchor="middle" textLength="15.76" lengthAdjust="spacingAndGlyphs">0.00</text>
<text class="tk" x="723.57" y="480.2" text-anchor="middle" textLength="15.76" lengthAdjust="spacingAndGlyphs">0.25</text>
<text class="tk" x="774.5" y="480.2" text-anchor="middle" textLength="15.76" lengthAdjust="spacingAndGlyphs">0.50</text>
<path class="tm" d="M572.7 264.4h-3M572.7 284.46h-3M572.7 304.52h-3M572.7 324.58h-3M572.7 344.64h-3M572.7 364.7h-3M572.7 384.76h-3M572.7 404.82h-3M572.7 424.88h-3M572.7 444.94h-3M572.7 465h-3M572.7 465v3M623.23 465v3M673.75 465v3M724.27 465v3M774.8 465v3"/>
<path class="ds" d="M572.7 344.6H774.8 M572.7 386.8H774.8"/>
<path class="mn" d="M572.7 365.8H774.8"/>
<circle cx="634.88" cy="336.75" r="2.9"/>
<circle cx="673.25" cy="334.25" r="2.9"/>
<circle cx="624.62" cy="354.25" r="2.9"/>
<circle cx="642.75" cy="356.12" r="2.9"/>
<circle cx="646.75" cy="358.62" r="2.9"/>
<circle cx="636.75" cy="363.38" r="2.9"/>
<circle cx="632.75" cy="368.62" r="2.9"/>
<circle cx="638.88" cy="370.25" r="2.9"/>
<circle cx="647" cy="367.38" r="2.9"/>
<circle cx="650.88" cy="372.75" r="2.9"/>
<circle cx="659" cy="352.38" r="2.9"/>
<circle cx="653" cy="357" r="2.9"/>
<circle cx="656.75" cy="358.62" r="2.9"/>
<circle cx="651.12" cy="362.38" r="2.9"/>
<circle cx="658" cy="363.62" r="2.9"/>
<circle cx="657.38" cy="368" r="2.9"/>
<circle cx="665.12" cy="355.5" r="2.9"/>
<circle cx="661.75" cy="361.12" r="2.9"/>
<circle cx="664.88" cy="366.75" r="2.9"/>
<circle cx="665.12" cy="377.38" r="2.9"/>
<circle cx="667.12" cy="388.25" r="2.9"/>
<circle cx="669.25" cy="356.75" r="2.9"/>
<circle cx="673" cy="358" r="2.9"/>
<circle cx="669.25" cy="363" r="2.9"/>
<circle cx="671.12" cy="369.88" r="2.9"/>
<circle cx="676.75" cy="353" r="2.9"/>
<circle cx="675.5" cy="355.5" r="2.9"/>
<circle cx="679.25" cy="358" r="2.9"/>
<circle cx="676.75" cy="362.38" r="2.9"/>
<circle cx="674.88" cy="367.38" r="2.9"/>
<circle cx="678.62" cy="365.5" r="2.9"/>
<circle cx="673" cy="375.5" r="2.9"/>
<circle cx="675.5" cy="376.75" r="2.9"/>
<circle cx="677.38" cy="375.5" r="2.9"/>
<circle cx="685.5" cy="349.62" r="2.9"/>
<circle cx="683" cy="355.5" r="2.9"/>
<circle cx="685.5" cy="358.62" r="2.9"/>
<circle cx="681.12" cy="361.12" r="2.9"/>
<circle cx="683" cy="366.12" r="2.9"/>
<circle cx="680.5" cy="369.25" r="2.9"/>
<circle cx="683.62" cy="373" r="2.9"/>
<circle cx="685.5" cy="376.75" r="2.9"/>
<circle cx="687.38" cy="375.5" r="2.9"/>
<circle cx="689.25" cy="364.88" r="2.9"/>
<circle cx="688.62" cy="369.25" r="2.9"/>
<circle cx="693.62" cy="360.5" r="2.9"/>
<circle cx="693" cy="365.5" r="2.9"/>
<circle cx="694.25" cy="369.25" r="2.9"/>
<circle cx="691.75" cy="373" r="2.9"/>
<circle cx="694.25" cy="374.25" r="2.9"/>
<circle cx="697.38" cy="368" r="2.9"/>
<circle cx="697.38" cy="374.25" r="2.9"/>
<circle cx="699.62" cy="354.62" r="2.9"/>
<circle cx="699.88" cy="361.75" r="2.9"/>
<circle cx="703.62" cy="361.12" r="2.9"/>
<circle cx="705.5" cy="358.38" r="2.9"/>
<circle cx="705.5" cy="350.25" r="2.9"/>
<circle cx="701.12" cy="368" r="2.9"/>
<circle cx="703.62" cy="374.62" r="2.9"/>
<circle cx="699.5" cy="382.62" r="2.9"/>
<circle cx="709.62" cy="368" r="2.9"/>
<circle cx="709.62" cy="373.38" r="2.9"/>
<circle cx="709.62" cy="389.25" r="2.9"/>
<circle cx="716" cy="373" r="2.9"/>
<circle cx="673" cy="364.88" r="2.9"/>
<circle cx="676.75" cy="369.25" r="2.9"/>
<circle cx="686.12" cy="368" r="2.9"/>
<circle cx="690.5" cy="370.5" r="2.9"/>
<circle cx="719.6" cy="363.1" r="2.9"/>
<circle cx="670.8" cy="433.6" r="2.9"/>
<text class="an" x="736.6" y="342.2" textLength="28.8" lengthAdjust="spacingAndGlyphs">+1.96 SD</text>
<text class="an" x="743.75" y="352.05" textLength="14.15" lengthAdjust="spacingAndGlyphs">0.20</text>
<text class="an" x="744.5" y="363.7" textLength="18.75" lengthAdjust="spacingAndGlyphs">Mean</text>
<text class="an" x="744.1" y="373.45" textLength="17.9" lengthAdjust="spacingAndGlyphs">−0.01</text>
<text class="an" x="739.5" y="385.55" textLength="28.4" lengthAdjust="spacingAndGlyphs">−1.96 SD</text>
<text class="an" x="743.25" y="395.55" textLength="17.75" lengthAdjust="spacingAndGlyphs">−0.22</text>
<rect class="tb" x="627.25" y="264.9" width="110.25" height="17.85"/>
<text class="ti" x="631" y="275.3" textLength="97" lengthAdjust="spacingAndGlyphs">Z(3,3) Horizontal trefoil</text>
<text class="ax" x="596" y="494.6" textLength="152.4" lengthAdjust="spacingAndGlyphs">Mean total horizontal trefoil (µm)</text>
<text class="ay" transform="translate(540.9 447.5) rotate(-90)" x="0" y="0" textLength="166" lengthAdjust="spacingAndGlyphs" style="white-space:pre">Difference between instruments (µm)</text>
<text class="pl" x="534.2" y="266.1">f</text>
</g>
<g class="panel">
<path class="fa" d="M43.5 511V711.4H245.8"/>
<path class="fr" d="M42.9 511H245.8V712.1"/>
<text class="tk" x="34.9" y="513.75" text-anchor="end" textLength="11.26" lengthAdjust="spacingAndGlyphs">0.5</text>
<text class="tk" x="34.9" y="533.79" text-anchor="end" textLength="11.26" lengthAdjust="spacingAndGlyphs">0.4</text>
<text class="tk" x="34.9" y="553.83" text-anchor="end" textLength="11.26" lengthAdjust="spacingAndGlyphs">0.3</text>
<text class="tk" x="34.9" y="573.87" text-anchor="end" textLength="11.26" lengthAdjust="spacingAndGlyphs">0.2</text>
<text class="tk" x="34.9" y="593.91" text-anchor="end" textLength="11.26" lengthAdjust="spacingAndGlyphs">0.1</text>
<text class="tk" x="34.9" y="613.95" text-anchor="end" textLength="11.26" lengthAdjust="spacingAndGlyphs">0.0</text>
<text class="tk" x="34.9" y="633.99" text-anchor="end" textLength="15.99" lengthAdjust="spacingAndGlyphs">−0.1</text>
<text class="tk" x="34.9" y="654.03" text-anchor="end" textLength="15.99" lengthAdjust="spacingAndGlyphs">−0.2</text>
<text class="tk" x="34.9" y="674.07" text-anchor="end" textLength="15.99" lengthAdjust="spacingAndGlyphs">−0.3</text>
<text class="tk" x="34.9" y="694.11" text-anchor="end" textLength="15.99" lengthAdjust="spacingAndGlyphs">−0.4</text>
<text class="tk" x="34.9" y="714.15" text-anchor="end" textLength="15.99" lengthAdjust="spacingAndGlyphs">−0.5</text>
<text class="tk" x="43" y="726.6" text-anchor="middle" textLength="20.49" lengthAdjust="spacingAndGlyphs">−0.25</text>
<text class="tk" x="94.98" y="726.6" text-anchor="middle" textLength="15.76" lengthAdjust="spacingAndGlyphs">0.00</text>
<text class="tk" x="143.95" y="726.6" text-anchor="middle" textLength="15.76" lengthAdjust="spacingAndGlyphs">0.25</text>
<text class="tk" x="194.93" y="726.6" text-anchor="middle" textLength="15.76" lengthAdjust="spacingAndGlyphs">0.50</text>
<text class="tk" x="245.8" y="726.6" text-anchor="middle" textLength="15.76" lengthAdjust="spacingAndGlyphs">0.75</text>
<path class="tm" d="M43.5 511h-3M43.5 531.04h-3M43.5 551.08h-3M43.5 571.12h-3M43.5 591.16h-3M43.5 611.2h-3M43.5 631.24h-3M43.5 651.28h-3M43.5 671.32h-3M43.5 691.36h-3M43.5 711.4h-3M43.5 711.4v3M94.08 711.4v3M144.65 711.4v3M195.23 711.4v3M245.8 711.4v3"/>
<path class="ds" d="M43.5 594.4H245.8 M43.5 633.5H245.8"/>
<path class="mn" d="M43.5 613.8H245.8"/>
<circle cx="109.62" cy="583.88" r="2.9"/>
<circle cx="123.12" cy="588.5" r="2.9"/>
<circle cx="130.25" cy="586.75" r="2.9"/>
<circle cx="134.62" cy="590.12" r="2.9"/>
<circle cx="142.88" cy="593.5" r="2.9"/>
<circle cx="100" cy="598.62" r="2.9"/>
<circle cx="97.88" cy="607.25" r="2.9"/>
<circle cx="104.38" cy="605.75" r="2.9"/>
<circle cx="105.62" cy="608.88" r="2.9"/>
<circle cx="103.12" cy="612.62" r="2.9"/>
<circle cx="101.88" cy="615.5" r="2.9"/>
<circle cx="110" cy="612.62" r="2.9"/>
<circle cx="109.38" cy="615.75" r="2.9"/>
<circle cx="110.62" cy="618.88" r="2.9"/>
<circle cx="104.38" cy="621.38" r="2.9"/>
<circle cx="103.75" cy="623.88" r="2.9"/>
<circle cx="98.75" cy="625.12" r="2.9"/>
<circle cx="91.88" cy="627" r="2.9"/>
<circle cx="91.62" cy="639.5" r="2.9"/>
<circle cx="115.38" cy="636.38" r="2.9"/>
<circle cx="120.62" cy="598.25" r="2.9"/>
<circle cx="124.38" cy="602" r="2.9"/>
<circle cx="128.12" cy="598.88" r="2.9"/>
<circle cx="134.38" cy="598.25" r="2.9"/>
<circle cx="138.75" cy="598.25" r="2.9"/>
<circle cx="133.12" cy="602" r="2.9"/>
<circle cx="114.38" cy="605.12" r="2.9"/>
<circle cx="120" cy="605.75" r="2.9"/>
<circle cx="114.38" cy="608.25" r="2.9"/>
<circle cx="131.25" cy="607" r="2.9"/>
<circle cx="134.38" cy="607.62" r="2.9"/>
<circle cx="139.12" cy="609.12" r="2.9"/>
<circle cx="149" cy="609.5" r="2.9"/>
<circle cx="152.5" cy="615.12" r="2.9"/>
<circle cx="139.62" cy="620.12" r="2.9"/>
<circle cx="117.5" cy="612" r="2.9"/>
<circle cx="121.25" cy="610.75" r="2.9"/>
<circle cx="125" cy="612" r="2.9"/>
<circle cx="128.75" cy="610.75" r="2.9"/>
<circle cx="132.5" cy="612" r="2.9"/>
<circle cx="116.25" cy="615.75" r="2.9"/>
<circle cx="120" cy="615.75" r="2.9"/>
<circle cx="123.75" cy="615.75" r="2.9"/>
<circle cx="127.5" cy="615.75" r="2.9"/>
<circle cx="131.25" cy="615.75" r="2.9"/>
<circle cx="133.75" cy="615.12" r="2.9"/>
<circle cx="115" cy="620.12" r="2.9"/>
<circle cx="118.75" cy="620.12" r="2.9"/>
<circle cx="122.5" cy="620.12" r="2.9"/>
<circle cx="126.25" cy="620.12" r="2.9"/>
<circle cx="130" cy="620.12" r="2.9"/>
<circle cx="133.75" cy="618.88" r="2.9"/>
<circle cx="111.25" cy="624.5" r="2.9"/>
<circle cx="115" cy="624.5" r="2.9"/>
<circle cx="118.75" cy="624.5" r="2.9"/>
<circle cx="122.5" cy="625.12" r="2.9"/>
<circle cx="126.25" cy="623.88" r="2.9"/>
<circle cx="130" cy="623.88" r="2.9"/>
<circle cx="134.38" cy="622.62" r="2.9"/>
<circle cx="118.12" cy="630.12" r="2.9"/>
<circle cx="122.5" cy="628.88" r="2.9"/>
<circle cx="123.12" cy="633.25" r="2.9"/>
<circle cx="120" cy="628.25" r="2.9"/>
<circle cx="121.88" cy="613.88" r="2.9"/>
<circle cx="125.62" cy="617.62" r="2.9"/>
<circle cx="129.38" cy="617.62" r="2.9"/>
<circle cx="123.12" cy="622" r="2.9"/>
<circle cx="119.38" cy="622" r="2.9"/>
<circle cx="203.1" cy="606.4" r="2.9"/>
<text class="an" x="214" y="592.2" textLength="28.75" lengthAdjust="spacingAndGlyphs">+1.96 SD</text>
<text class="an" x="213.75" y="601.7" textLength="14.35" lengthAdjust="spacingAndGlyphs">0.08</text>
<text class="an" x="218.1" y="612.55" textLength="18.4" lengthAdjust="spacingAndGlyphs">Mean</text>
<text class="an" x="217.75" y="622.2" textLength="18.15" lengthAdjust="spacingAndGlyphs">−0.02</text>
<text class="an" x="211.6" y="632.2" textLength="28.4" lengthAdjust="spacingAndGlyphs">−1.96 SD</text>
<text class="an" x="211.6" y="641.95" textLength="17.8" lengthAdjust="spacingAndGlyphs">−0.11</text>
<rect class="tb" x="74.5" y="511.5" width="143.75" height="17.9"/>
<text class="ti" x="78.75" y="522.5" textLength="130" lengthAdjust="spacingAndGlyphs">Z(4,0) Spherical aberration (SA)</text>
<text class="ax" x="105" y="741.7" textLength="89.5" lengthAdjust="spacingAndGlyphs">Mean total SA (µm)</text>
<text class="ay" transform="translate(9.5 694.5) rotate(-90)" x="0" y="0" textLength="166.5" lengthAdjust="spacingAndGlyphs" style="white-space:pre">Difference between instruments (µm)</text>
<text class="pl" x="1.2" y="510.3">g</text>
</g>
<g class="panel">
<path class="fa" d="M311.8 513.7V714.6H511.9"/>
<path class="fr" d="M311.2 513.7H511.9V715.3"/>
<text class="tk" x="303.2" y="516.45" text-anchor="end" textLength="15.76" lengthAdjust="spacingAndGlyphs">1.25</text>
<text class="tk" x="303.2" y="536.54" text-anchor="end" textLength="15.76" lengthAdjust="spacingAndGlyphs">1.00</text>
<text class="tk" x="303.2" y="556.63" text-anchor="end" textLength="15.76" lengthAdjust="spacingAndGlyphs">0.75</text>
<text class="tk" x="303.2" y="576.72" text-anchor="end" textLength="15.76" lengthAdjust="spacingAndGlyphs">0.50</text>
<text class="tk" x="303.2" y="596.81" text-anchor="end" textLength="15.76" lengthAdjust="spacingAndGlyphs">0.25</text>
<text class="tk" x="303.2" y="616.9" text-anchor="end" textLength="15.76" lengthAdjust="spacingAndGlyphs">0.00</text>
<text class="tk" x="303.2" y="636.99" text-anchor="end" textLength="20.49" lengthAdjust="spacingAndGlyphs">−0.25</text>
<text class="tk" x="303.2" y="657.08" text-anchor="end" textLength="20.49" lengthAdjust="spacingAndGlyphs">−0.50</text>
<text class="tk" x="303.2" y="677.17" text-anchor="end" textLength="20.49" lengthAdjust="spacingAndGlyphs">−0.75</text>
<text class="tk" x="303.2" y="697.26" text-anchor="end" textLength="20.49" lengthAdjust="spacingAndGlyphs">−1.00</text>
<text class="tk" x="303.2" y="717.35" text-anchor="end" textLength="20.49" lengthAdjust="spacingAndGlyphs">−1.25</text>
<text class="tk" x="312.7" y="729.3" text-anchor="middle" textLength="15.76" lengthAdjust="spacingAndGlyphs">0.00</text>
<text class="tk" x="361.12" y="729.3" text-anchor="middle" textLength="15.76" lengthAdjust="spacingAndGlyphs">0.25</text>
<text class="tk" x="411.55" y="729.3" text-anchor="middle" textLength="15.76" lengthAdjust="spacingAndGlyphs">0.50</text>
<text class="tk" x="461.88" y="729.3" text-anchor="middle" textLength="15.76" lengthAdjust="spacingAndGlyphs">0.75</text>
<text class="tk" x="511.9" y="729.3" text-anchor="middle" textLength="15.76" lengthAdjust="spacingAndGlyphs">1.00</text>
<path class="tm" d="M311.8 513.7h-3M311.8 533.79h-3M311.8 553.88h-3M311.8 573.97h-3M311.8 594.06h-3M311.8 614.15h-3M311.8 634.24h-3M311.8 654.33h-3M311.8 674.42h-3M311.8 694.51h-3M311.8 714.6h-3M311.8 714.6v3M361.82 714.6v3M411.85 714.6v3M461.88 714.6v3M511.9 714.6v3"/>
<path class="ds" d="M311.8 591H511.9 M311.8 631.2H511.9"/>
<path class="mn" d="M311.8 611.1H511.9"/>
<circle cx="404.5" cy="580.88" r="2.9"/>
<circle cx="385.75" cy="592.5" r="2.9"/>
<circle cx="390.12" cy="592.25" r="2.9"/>
<circle cx="397" cy="597.88" r="2.9"/>
<circle cx="349.75" cy="602.12" r="2.9"/>
<circle cx="370.5" cy="601.62" r="2.9"/>
<circle cx="375.75" cy="603.75" r="2.9"/>
<circle cx="358.25" cy="605" r="2.9"/>
<circle cx="361.38" cy="604" r="2.9"/>
<circle cx="350.75" cy="609.38" r="2.9"/>
<circle cx="351.38" cy="614.38" r="2.9"/>
<circle cx="355.12" cy="612.5" r="2.9"/>
<circle cx="355.75" cy="618.12" r="2.9"/>
<circle cx="358.25" cy="608.75" r="2.9"/>
<circle cx="359.5" cy="613.75" r="2.9"/>
<circle cx="362" cy="617.5" r="2.9"/>
<circle cx="362" cy="621.88" r="2.9"/>
<circle cx="365.12" cy="608.75" r="2.9"/>
<circle cx="365.75" cy="613.12" r="2.9"/>
<circle cx="365.75" cy="620" r="2.9"/>
<circle cx="368.88" cy="615" r="2.9"/>
<circle cx="368.88" cy="619.38" r="2.9"/>
<circle cx="371.38" cy="607.5" r="2.9"/>
<circle cx="372" cy="612.5" r="2.9"/>
<circle cx="374.5" cy="616.25" r="2.9"/>
<circle cx="375.75" cy="620.62" r="2.9"/>
<circle cx="377" cy="610" r="2.9"/>
<circle cx="380.12" cy="606.88" r="2.9"/>
<circle cx="380.12" cy="612.5" r="2.9"/>
<circle cx="380.12" cy="617.5" r="2.9"/>
<circle cx="380.12" cy="621.88" r="2.9"/>
<circle cx="383.25" cy="614.38" r="2.9"/>
<circle cx="383.88" cy="618.75" r="2.9"/>
<circle cx="387" cy="606.25" r="2.9"/>
<circle cx="387" cy="611.88" r="2.9"/>
<circle cx="386.38" cy="616.25" r="2.9"/>
<circle cx="387" cy="622.5" r="2.9"/>
<circle cx="390.5" cy="604.75" r="2.9"/>
<circle cx="390.12" cy="613.12" r="2.9"/>
<circle cx="392" cy="621.88" r="2.9"/>
<circle cx="392.62" cy="615.62" r="2.9"/>
<circle cx="394.5" cy="611.25" r="2.9"/>
<circle cx="378.88" cy="633.5" r="2.9"/>
<circle cx="401.38" cy="631.5" r="2.9"/>
<circle cx="402.62" cy="607.88" r="2.9"/>
<circle cx="405.5" cy="607.5" r="2.9"/>
<circle cx="408.5" cy="602.88" r="2.9"/>
<circle cx="412" cy="606.88" r="2.9"/>
<circle cx="416.62" cy="608.12" r="2.9"/>
<circle cx="415.5" cy="615.38" r="2.9"/>
<circle cx="408.25" cy="619.38" r="2.9"/>
<circle cx="406.75" cy="620.88" r="2.9"/>
<circle cx="418.88" cy="625" r="2.9"/>
<circle cx="363.25" cy="613.12" r="2.9"/>
<circle cx="372" cy="618.75" r="2.9"/>
<circle cx="377" cy="615" r="2.9"/>
<circle cx="377" cy="618.75" r="2.9"/>
<circle cx="358.88" cy="618.12" r="2.9"/>
<circle cx="353.25" cy="616.25" r="2.9"/>
<circle cx="447.9" cy="545.8" r="2.9"/>
<circle cx="490.4" cy="586.9" r="2.9"/>
<circle cx="424.1" cy="589" r="2.9"/>
<circle cx="424.8" cy="598" r="2.9"/>
<circle cx="440.3" cy="603.5" r="2.9"/>
<circle cx="435.5" cy="607.1" r="2.9"/>
<circle cx="428.3" cy="612.8" r="2.9"/>
<text class="an" x="454.4" y="589.35" textLength="28.8" lengthAdjust="spacingAndGlyphs">+1.96 SD</text>
<text class="an" x="461.2" y="599.15" textLength="14.8" lengthAdjust="spacingAndGlyphs">0.28</text>
<text class="an" x="484.2" y="609.55" textLength="18.8" lengthAdjust="spacingAndGlyphs">Mean</text>
<text class="an" x="484.2" y="619.35" textLength="18" lengthAdjust="spacingAndGlyphs">+0.03</text>
<text class="an" x="456.1" y="629.45" textLength="28.9" lengthAdjust="spacingAndGlyphs">−1.96 SD</text>
<text class="an" x="461.6" y="639.05" textLength="18.3" lengthAdjust="spacingAndGlyphs">−0.22</text>
<rect class="tb" x="388.25" y="514" width="48.5" height="18.5"/>
<text class="ti" x="392" y="525.3" textLength="40.5" lengthAdjust="spacingAndGlyphs">RMS HOA</text>
<text class="ax" x="343.6" y="742.1" textLength="124.4" lengthAdjust="spacingAndGlyphs">Mean total RMS HOA (µm)</text>
<text class="ay" transform="translate(274.1 697.3) rotate(-90)" x="0" y="0" textLength="167.6" lengthAdjust="spacingAndGlyphs" style="white-space:pre">Difference between instruments  (µm)</text>
<text class="pl" x="265.5" y="514">h</text>
</g>
</svg>
</body>
</html>
